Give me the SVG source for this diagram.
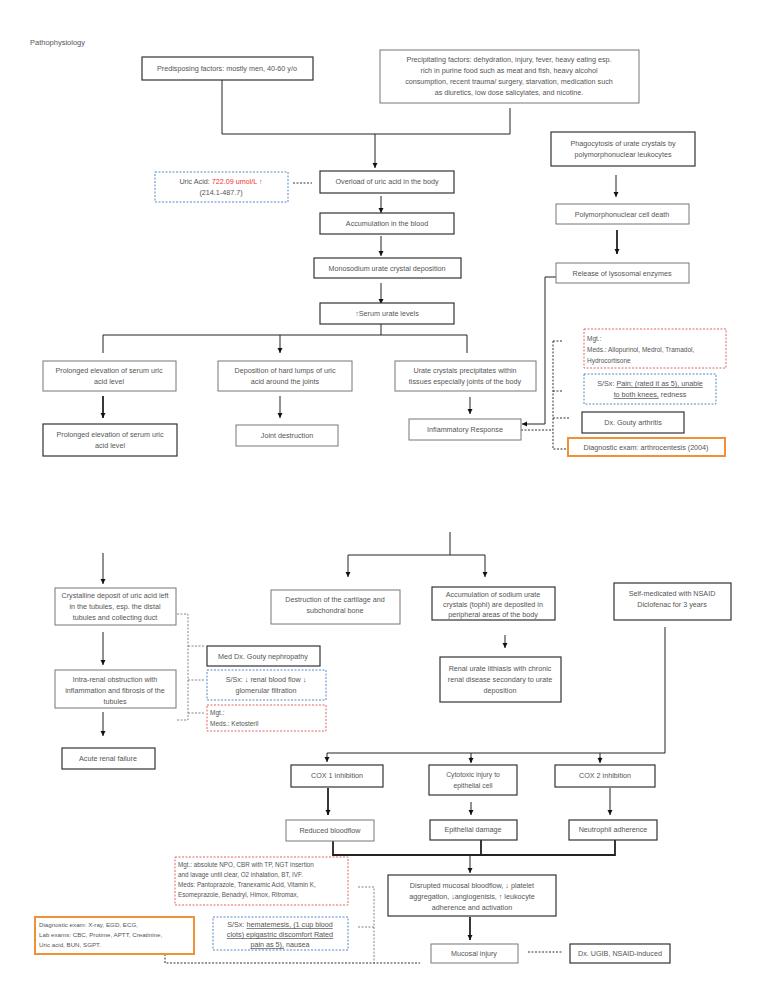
<svg xmlns="http://www.w3.org/2000/svg" width="768" height="1006" viewBox="0 0 768 1006">
<defs>
<marker id="a" markerWidth="6" markerHeight="6" refX="5" refY="3" orient="auto" markerUnits="userSpaceOnUse"><path d="M0,0.5 L5,3 L0,5.5z" fill="#111"/></marker>
<style>
text{font-family:"Liberation Sans",Arial,sans-serif;font-size:7.2px;fill:#555;text-anchor:middle}
.b{fill:#fff;stroke:#333;stroke-width:1.2}
.b2{fill:#fff;stroke:#777;stroke-width:1}
.r{fill:#fff;stroke:#d66;stroke-width:1;stroke-dasharray:2,1.5}
.bl{fill:#fff;stroke:#58c;stroke-width:1;stroke-dasharray:2,1.5}
.o{fill:#fff;stroke:#f0913a;stroke-width:2}
.l{fill:none;stroke:#222;stroke-width:1}
.k{fill:none;stroke:#222;stroke-width:1.8}
.d{fill:none;stroke:#333;stroke-width:1;stroke-dasharray:2,1.5}
.g{fill:none;stroke:#777;stroke-width:0.9;stroke-dasharray:2,1.5}
.s{text-anchor:start}
</style>
</defs>
<rect width="768" height="1006" fill="#fff"/>
<text x="30" y="45" class="s" style="font-size:7.5px">Pathophysiology</text>
<g id="connectors">
<path class="l" d="M222,80V134H510V108"/>
<path class="l" d="M375,134V168" marker-end="url(#a)"/>
<path class="d" d="M293,183H312"/>
<path class="l" d="M381,196V213" marker-end="url(#a)"/>
<path class="l" d="M381,236V256" marker-end="url(#a)"/>
<path class="l" d="M381,283V304" marker-end="url(#a)"/>
<path class="l" d="M381,324V335M103,353V335H467V353M280,335V353" marker-end="url(#a)"/>
<path class="l" d="M103,353" />
<path class="k" d="M103,396V418" marker-end="url(#a)"/>
<path class="l" d="M280,396V418" marker-end="url(#a)"/>
<path class="l" d="M470,397V414" marker-end="url(#a)"/>
<path class="l" d="M616,175V197" marker-end="url(#a)"/>
<path class="k" d="M617,230V254" marker-end="url(#a)"/>
<path class="l" d="M556,277H545V424H522" marker-end="url(#a)"/>
<path class="d" d="M553,341V449H570M553,341H562M553,391H562M553,418H570M521,430H553"/>
<path class="l" d="M450,532V555M348,555H485"/>
<path class="l" d="M348,555V577" marker-end="url(#a)"/>
<path class="l" d="M485,555V577" marker-end="url(#a)"/>
<path class="l" d="M103,553V584" marker-end="url(#a)"/>
<path class="l" d="M103,632V665" marker-end="url(#a)"/>
<path class="l" d="M103,712V736" marker-end="url(#a)"/>
<path class="g" d="M177,614H188V720H177M188,646H205M188,680H205M188,713H205"/>
<path class="l" d="M505,635V648" marker-end="url(#a)"/>
<path class="l" d="M665,627V753H327M471,753V762M600,753V762"/>
<path class="l" d="M327,753V762" marker-end="url(#a)"/>
<path class="l" d="M471,757V763" marker-end="url(#a)"/>
<path class="l" d="M600,757V763" marker-end="url(#a)"/>
<path class="k" d="M328,788V815" marker-end="url(#a)"/>
<path class="l" d="M471,802V815" marker-end="url(#a)"/>
<path class="l" d="M610,788V815" marker-end="url(#a)"/>
<path class="k" d="M333,841V855H615V840M481,840V855"/>
<path class="l" d="M470,855V873" marker-end="url(#a)"/>
<path class="k" d="M470,917V940" marker-end="url(#a)"/>
<path class="d" d="M528,952H562"/>
<path class="g" d="M358,887H374V963M358,927H374"/>
<path class="d" d="M165,954V963H420"/>
</g>
<g id="n1"><rect class="b" x="142" y="57" width="171" height="23"/><text x="227" y="71">Predisposing factors: mostly men, 40-60 y/o</text></g>
<g id="n2"><rect class="b2" x="380" y="50" width="259" height="53"/>
<text x="509" y="62">Precipitating factors: dehydration, injury, fever, heavy eating esp.</text>
<text x="509" y="73">rich in purine food such as meat and fish, heavy alcohol</text>
<text x="509" y="84">consumption, recent trauma/ surgery, starvation, medication such</text>
<text x="509" y="95">as diuretics, low dose salicylates, and nicotine.</text></g>
<g id="n3"><rect class="bl" x="155" y="172" width="133" height="30"/><text x="221" y="184">Uric Acid: <tspan style="fill:#e33">722.09 umol/L ↑</tspan></text><text x="221" y="195">(214.1-487.7)</text></g>
<g id="n4"><rect class="b" x="320" y="171" width="134" height="22"/><text x="387" y="184">Overload of uric acid in the body</text></g>
<g id="n5"><rect class="b" x="320" y="213" width="134" height="21"/><text x="387" y="226">Accumulation in the blood</text></g>
<g id="n6"><rect class="b" x="314" y="258" width="147" height="20"/><text x="387" y="271">Monosodium urate crystal deposition</text></g>
<g id="n7"><rect class="b" x="320" y="303" width="134" height="21"/><text x="387" y="316">↑Serum urate levels</text></g>
<g id="n8"><rect class="b2" x="43" y="361" width="133" height="30"/><text x="109" y="373">Prolonged elevation of serum uric</text><text x="109" y="384">acid level</text></g>
<g id="n9"><rect class="b2" x="218" y="361" width="134" height="30"/><text x="285" y="373">Deposition of hard lumps of uric</text><text x="285" y="384">acid around the joints</text></g>
<g id="n10"><rect class="b2" x="395" y="361" width="141" height="30"/><text x="465" y="373">Urate crystals precipitates within</text><text x="465" y="384">tissues especially joints of the body</text></g>
<g id="n11"><rect class="b" x="43" y="424" width="134" height="32"/><text x="110" y="437">Prolonged elevation of serum uric</text><text x="110" y="448">acid level</text></g>
<g id="n12"><rect class="b2" x="236" y="425" width="102" height="21"/><text x="287" y="438">Joint destruction</text></g>
<g id="n13"><rect class="b2" x="409" y="419" width="112" height="21"/><text x="465" y="432">Inflammatory Response</text></g>
<g id="n14"><rect class="b" x="551" y="132" width="144" height="34"/><text x="623" y="146">Phagocytosis of urate crystals by</text><text x="623" y="157">polymorphonuclear leukocytes</text></g>
<g id="n15"><rect class="b2" x="556" y="204" width="133" height="20"/><text x="622" y="217">Polymorphonuclear cell death</text></g>
<g id="n16"><rect class="b2" x="556" y="263" width="133" height="20"/><text x="622" y="276">Release of lysosomal enzymes</text></g>
<g id="n17"><rect class="r" x="584" y="329" width="142" height="39"/><text x="587" y="341" class="s" style="font-size:6.5px">Mgt.:</text><text x="587" y="352" class="s" style="font-size:6.5px">Meds.: Allopurinol, Medrol, Tramadol,</text><text x="587" y="363" class="s" style="font-size:6.5px">Hydrocortisone</text></g>
<g id="n18"><rect class="bl" x="584" y="374" width="132" height="30"/><text x="650" y="386">S/Sx: <tspan text-decoration="underline">Pain; (rated it as 5), unable</tspan></text><text x="650" y="397"><tspan text-decoration="underline">to both knees,</tspan> redness</text></g>
<g id="n19"><rect class="b" x="582" y="412" width="102" height="21"/><text x="633" y="425">Dx. Gouty arthritis</text></g>
<g id="n20"><rect class="o" x="568" y="438" width="157" height="18"/><text x="646" y="450">Diagnostic exam: arthrocentesis (2004)</text></g>
<g id="n21"><rect class="b2" x="55" y="588" width="121" height="37"/><text x="115" y="598">Crystalline deposit of uric acid left</text><text x="115" y="609">in the tubules, esp. the distal</text><text x="115" y="620">tubules and collecting duct</text></g>
<g id="n22"><rect class="b2" x="55" y="670" width="121" height="38"/><text x="115" y="682">Intra-renal obstruction with</text><text x="115" y="693">inflammation and fibrosis of the</text><text x="115" y="704">tubules</text></g>
<g id="n23"><rect class="b" x="62" y="748" width="93" height="21"/><text x="108" y="761">Acute renal failure</text></g>
<g id="n24"><rect class="b" x="207" y="646" width="113" height="20"/><text x="263" y="659">Med Dx. Gouty nephropathy</text></g>
<g id="n25"><rect class="bl" x="207" y="670" width="119" height="30"/><text x="266" y="682">S/Sx: ↓ renal blood flow ↓</text><text x="266" y="693">glomerular filtration</text></g>
<g id="n26"><rect class="r" x="207" y="705" width="119" height="26"/><text x="210" y="715" class="s" style="font-size:6.5px">Mgt.:</text><text x="210" y="726" class="s" style="font-size:6.5px">Meds.: Ketosteril</text></g>
<g id="n27"><rect class="b2" x="271" y="590" width="129" height="34"/><text x="335" y="602">Destruction of the cartilage and</text><text x="335" y="613">subchondral bone</text></g>
<g id="n28"><rect class="b" x="432" y="587" width="123" height="33"/><text x="493" y="597">Accumulation of sodium urate</text><text x="493" y="607">crystals (tophi) are deposited in</text><text x="493" y="617">peripheral areas of the body</text></g>
<g id="n29"><rect class="b" x="440" y="657" width="121" height="45"/><text x="500" y="671">Renal urate lithiasis with chronic</text><text x="500" y="682">renal disease secondary to urate</text><text x="500" y="693">deposition</text></g>
<g id="n30"><rect class="b" x="614" y="583" width="117" height="37"/><text x="672" y="596">Self-medicated with NSAID</text><text x="672" y="607">Diclofenac for 3 years</text></g>
<g id="n31"><rect class="b" x="291" y="765" width="92" height="22"/><text x="337" y="778">COX 1 inhibition</text></g>
<g id="n32"><rect class="b" x="429" y="765" width="88" height="30"/><text x="473" y="777" style="font-size:6.8px">Cytotoxic injury to</text><text x="473" y="788" style="font-size:6.8px">epithelial cell</text></g>
<g id="n33"><rect class="b" x="555" y="765" width="100" height="22"/><text x="605" y="778">COX 2 inhibition</text></g>
<g id="n34"><rect class="b2" x="286" y="820" width="88" height="21"/><text x="330" y="833">Reduced bloodflow</text></g>
<g id="n35"><rect class="b" x="430" y="820" width="87" height="20"/><text x="473" y="832">Epithelial damage</text></g>
<g id="n36"><rect class="b" x="569" y="820" width="88" height="20"/><text x="613" y="832">Neutrophil adherence</text></g>
<g id="n37"><rect class="r" x="175" y="857" width="173" height="48"/>
<text x="178" y="867" class="s" style="font-size:6.3px">Mgt.: absolute NPO, CBR with TP, NGT insertion</text>
<text x="178" y="877" class="s" style="font-size:6.3px">and lavage until clear, O2 inhalation, BT, IVF.</text>
<text x="178" y="887" class="s" style="font-size:6.3px">Meds: Pantoprazole, Tranexamic Acid, Vitamin K,</text>
<text x="178" y="897" class="s" style="font-size:6.3px">Esomeprazole, Benadryl, Himox, Ritromax,</text></g>
<g id="n38"><rect class="b" x="388" y="875" width="168" height="41"/><text x="472" y="888">Disrupted mucosal bloodflow, ↓ platelet</text><text x="472" y="899">aggregation, ↓angiogenisis, ↑ leukocyte</text><text x="472" y="910">adherence and activation</text></g>
<g id="n39"><rect class="bl" x="213" y="917" width="135" height="33"/><text x="280" y="927">S/Sx: <tspan text-decoration="underline">hematemesis,  (1 cup blood</tspan></text><text x="280" y="937"><tspan text-decoration="underline">clots) epigastric discomfort Rated</tspan></text><text x="280" y="947"><tspan text-decoration="underline">pain as 5),</tspan> nausea</text></g>
<g id="n40"><rect class="o" x="35" y="917" width="159" height="37"/><text x="39" y="927" class="s" style="font-size:6.2px">Diagnostic exam: X-ray, EGD, ECG,</text><text x="39" y="937" class="s" style="font-size:6.2px">Lab exams: CBC, Protime, APTT, Creatinine,</text><text x="39" y="947" class="s" style="font-size:6.2px">Uric acid, BUN, SGPT.</text></g>
<g id="n41"><rect class="b2" x="431" y="944" width="87" height="19"/><text x="474" y="956">Mucosal injury</text></g>
<g id="n42"><rect class="b" x="570" y="944" width="100" height="19"/><text x="620" y="956">Dx. UGIB, NSAID-induced</text></g>
</svg>
